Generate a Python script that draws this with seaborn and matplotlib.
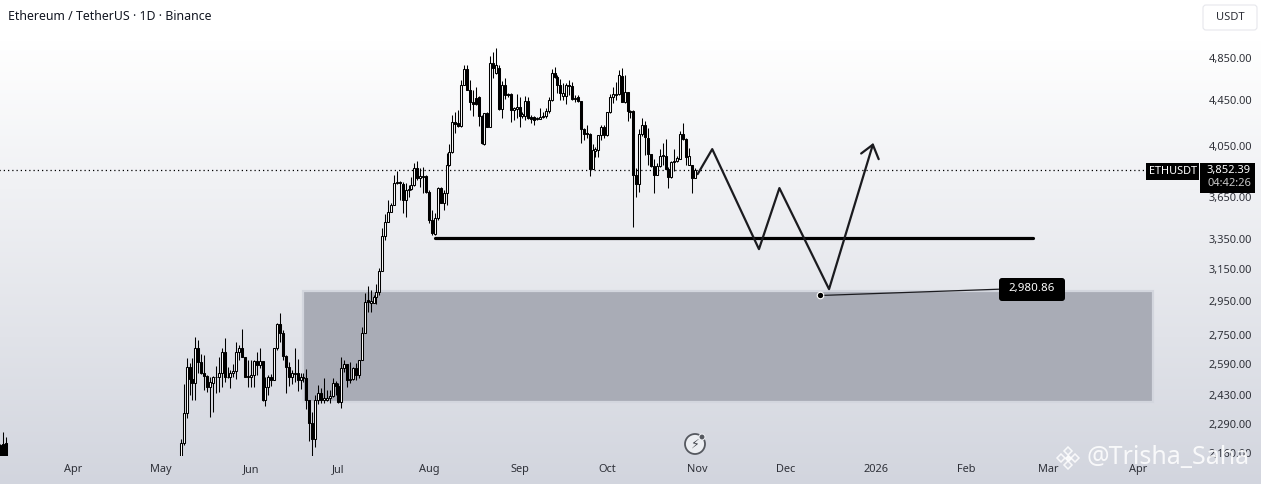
import numpy as np
import pandas as pd
import matplotlib
matplotlib.use("Agg")
import matplotlib.pyplot as plt
import matplotlib.dates as mdates
from matplotlib.patches import FancyBboxPatch, Rectangle, Circle
import seaborn as sns

# candles from 8 May 2025, daily
opens = [1900,2201,2341,2577,2510,2489,2674,2602,2544,2527,
         2469,2492,2520,2520,2544,2656,2520,2523,2544,2555,
         2656,2674,2625,2523,2523,2535,2606,2585,2606,2408,
         2469,2520,2506,2674,2811,2762,2634,2573,2523,2537,
         2541,2506,2517,2515,2405,2293,2223,2408,2442,2408,
         2408,2418,2426,2492,2476,2397,2567,2590,2506,2510,
         2567,2532,2611,2762,2953,2937,2937,2969,3004,3134,
         3367,3465,3537,3587,3753,3763,3745,3624,3700,3711,
         3738,3870,3792,3800,3808,3687,3479,3380,3493,3715,
         3605,3677,3894,4002,4250,4245,4220,4590,4745,4541,
         4434,4470,4475,4305,4065,4332,4213,4805,4700,4755,
         4368,4587,4510,4505,4359,4370,4385,4305,4305,4443,
         4298,4298,4283,4283,4296,4307,4352,4449,4700,4663,
         4590,4490,4490,4590,4580,4455,4475,4437,4190,4155,
         4150,3867,4010,4016,4140,4212,4140,4338,4475,4495,
         4510,4673,4434,4522,4353,4353,3820,3743,4147,4232,
         4116,3980,3886,3820,3886,3969,3969,3862,3797,3920,
         3926,3945,4150,4107,3894,3894,3792]
highs = [2223,2484,2620,2593,2620,2736,2720,2643,2638,2532,
         2523,2525,2580,2629,2674,2730,2573,2558,2590,2707,
         2693,2781,2625,2611,2611,2614,2656,2674,2606,2523,
         2532,2537,2674,2815,2873,2777,2638,2602,2558,2674,
         2618,2541,2541,2562,2405,2349,2431,2481,2464,2515,
         2455,2455,2518,2501,2489,2629,2611,2590,2602,2573,
         2597,2611,2796,2994,3039,3014,2984,3050,3153,3422,
         3522,3624,3602,3815,3848,3768,3763,3753,3738,3801,
         3910,3928,3870,3880,3815,3700,3551,3530,3723,3725,
         3700,3991,4065,4315,4344,4359,4636,4782,4782,4636,
         4541,4570,4485,4315,4335,4340,4870,4910,4950,4782,
         4630,4655,4515,4515,4388,4505,4475,4343,4485,4478,
         4315,4305,4295,4374,4343,4374,4475,4738,4758,4682,
         4643,4610,4612,4636,4620,4495,4495,4443,4198,4226,
         4155,4065,4043,4142,4226,4226,4343,4507,4570,4620,
         4732,4748,4683,4525,4359,4359,3870,4190,4288,4262,
         4198,3983,3942,3910,4024,4076,4107,3880,3926,4024,
         3966,4178,4242,4113,4032,3895,3868]
lows = [1790,2195,2317,2431,2408,2408,2544,2540,2455,2447,
        2322,2349,2442,2447,2472,2497,2515,2464,2523,2510,
        2611,2625,2520,2472,2469,2472,2532,2567,2402,2378,
        2431,2476,2506,2665,2711,2611,2439,2476,2486,2497,
        2452,2460,2497,2360,2213,2146,2186,2386,2389,2389,
        2402,2392,2422,2431,2389,2369,2550,2472,2489,2506,
        2506,2515,2611,2758,2883,2883,2933,2929,2984,3305,
        3339,3465,3537,3587,3745,3624,3530,3503,3650,3700,
        3733,3776,3725,3677,3677,3458,3373,3373,3479,3602,
        3551,3590,3886,3991,4158,4212,4212,4590,4541,4359,
        4305,4403,4220,4065,4057,4212,4212,4660,4695,4359,
        4288,4460,4475,4255,4270,4288,4214,4285,4270,4279,
        4242,4225,4270,4279,4285,4288,4333,4443,4655,4513,
        4449,4449,4413,4495,4449,4434,4434,4076,4099,4113,
        3810,3862,3961,3961,4099,4116,4134,4335,4425,4449,
        4495,4434,4420,4262,4290,3431,3647,3687,4132,3975,
        3894,3880,3675,3815,3880,3894,3860,3713,3792,3846,
        3920,3942,4099,3894,3894,3680,3792]
closes = [2201,2341,2577,2510,2489,2674,2602,2544,2527,2469,
          2494,2523,2523,2544,2656,2520,2523,2544,2555,2656,
          2674,2625,2523,2527,2535,2606,2585,2606,2408,2469,
          2520,2506,2674,2811,2762,2634,2573,2523,2541,2541,
          2506,2520,2520,2405,2293,2223,2408,2442,2408,2417,
          2418,2426,2492,2476,2397,2567,2590,2506,2512,2567,
          2532,2611,2762,2943,2943,2949,2969,3004,3134,3367,
          3467,3537,3587,3753,3763,3753,3624,3700,3711,3738,
          3870,3792,3808,3808,3687,3479,3388,3493,3715,3605,
          3677,3894,4002,4250,4240,4220,4590,4745,4541,4434,
          4412,4412,4305,4074,4332,4213,4805,4755,4780,4368,
          4587,4495,4495,4359,4374,4385,4305,4323,4443,4288,
          4280,4270,4292,4296,4307,4352,4449,4700,4663,4590,
          4516,4516,4590,4580,4455,4465,4437,4190,4150,4150,
          3867,4016,4022,4140,4212,4140,4338,4475,4504,4510,
          4683,4434,4522,4353,4346,3820,3743,4147,4232,4122,
          3980,3886,3820,3886,3969,3977,3862,3797,3920,3926,
          3950,4150,4107,3961,3969,3792,3852]

# the few March candles still visible at the left edge
early_dates = ["2025-03-07", "2025-03-08", "2025-03-09"]
early_opens = [2195, 2200, 2205]
early_highs = [2200, 2252, 2230]
early_lows = [2000, 2010, 1990]
early_closes = [2050, 2060, 2040]

price_ticks = [4850, 4450, 4050, 3650, 3350, 3150, 2950, 2750, 2590, 2430, 2290, 2160]
month_dates = ["2025-04-01", "2025-05-01", "2025-06-01", "2025-07-01", "2025-08-01", "2025-09-01",
               "2025-10-01", "2025-11-01", "2025-12-01", "2026-01-01", "2026-02-01", "2026-03-01", "2026-04-01"]
month_labels = ["Apr", "May", "Jun", "Jul", "Aug", "Sep", "Oct", "Nov", "Dec", "2026", "Feb", "Mar", "Apr"]

# hand drawn projection
path_dates = ["2025-11-01", "2025-11-06", "2025-11-22", "2025-11-29", "2025-12-16", "2025-12-31"]
path_prices = [3823, 4024, 3278, 3715, 3020, 4061]
head_dates = ["2025-12-27", "2025-12-31", "2026-01-02"]
head_prices = [3988, 4061, 3942]

support_dates = ["2025-08-03", "2026-02-24"]
support_price = 3352
zone_dates = ["2025-06-19", "2026-04-06"]
zone_prices = [2395, 3008]
last_price = 3852.39
last_dates = ["2025-03-06", "2026-04-03"]
leader_dates = ["2025-12-13", "2026-02-13"]
leader_prices = [2980.86, 3020]

font = "Noto Sans"
line_color = "#1b1b1f"

sns.set_theme(style="white")
plt.rcParams["font.family"] = [font, "DejaVu Sans"]

W, H = 1261, 484
fig = plt.figure(figsize=(W / 100, H / 100), dpi=100)

# background gradient, white at the top going to blue grey
bg = fig.add_axes([0, 0, 1, 1], zorder=0)
t = np.clip((np.arange(H) - 40) / (H - 40), 0, 1)
top, bottom = np.array([255, 255, 255]), np.array([210, 213, 222])
grad = (top[None, :] + t[:, None] * (bottom - top)[None, :]) / 255
bg.imshow(grad[:, None, :], aspect="auto", extent=[0, 1, 0, 1])
bg.axis("off")

ax = fig.add_axes([0, 28 / H, 1203 / W, 456 / H], zorder=1)
ax.patch.set_alpha(0)
ax.set_yscale("log")

to_num = lambda d: mdates.date2num(pd.to_datetime(d))
main_x = to_num(pd.date_range("2025-05-08", periods=len(opens)))
xs = np.concatenate([to_num(early_dates), main_x])
o = np.array(early_opens + opens, dtype=float)
h = np.array(early_highs + highs, dtype=float)
l = np.array(early_lows + lows, dtype=float)
c = np.array(early_closes + closes, dtype=float)

# zone under the candles
zx = to_num(zone_dates)
ax.add_patch(Rectangle((zx[0], zone_prices[0]), zx[1] - zx[0], zone_prices[1] - zone_prices[0],
                       facecolor="#a9acb6", edgecolor="#d3d6de", linewidth=1.6, zorder=1))

# last price dotted line
sns.lineplot(x=to_num(last_dates), y=[last_price, last_price], ax=ax, color="black",
             linewidth=0.9, linestyle=(0, (1, 2.4)), zorder=2)

ax.vlines(xs, l, h, color="black", linewidth=0.75, zorder=3)
up = c >= o
ax.bar(xs, np.abs(c - o), bottom=np.minimum(o, c), width=0.68,
       color=np.where(up, "white", "black"), edgecolor="black", linewidth=0.75, zorder=4)

sns.lineplot(x=to_num(support_dates), y=[support_price, support_price], ax=ax, color="black",
             linewidth=2.3, zorder=5)
sns.lineplot(x=to_num(path_dates), y=path_prices, ax=ax, color=line_color, linewidth=1.6,
             sort=False, estimator=None, zorder=5)
sns.lineplot(x=to_num(head_dates), y=head_prices, ax=ax, color=line_color, linewidth=1.6,
             sort=False, estimator=None, zorder=5)
sns.lineplot(x=to_num(leader_dates), y=leader_prices, ax=ax, color=line_color, linewidth=0.9,
             sort=False, estimator=None, zorder=5)
sns.scatterplot(x=to_num(leader_dates[:1]), y=leader_prices[:1], ax=ax, color="black", s=22,
                edgecolor="white", linewidth=0.8, zorder=6)

# Aug 1 sits at 429px, one day is 2.92px
aug1 = to_num("2025-08-01")
ax.set_xlim(aug1 - 429 / 2.92, aug1 + (1203 - 429) / 2.92)
ax.set_ylim(2145, 5463)
ax.yaxis.tick_right()
ax.set_yticks(price_ticks)
ax.set_yticklabels([f"{p:,.2f}" for p in price_ticks], fontsize=7.9, color="#2e3038")
ax.minorticks_off()
ax.set_xticks(to_num(month_dates))
ax.set_xticklabels(month_labels, fontsize=7.9, color="#2e3038")
ax.tick_params(axis="both", length=0, pad=4)
ax.tick_params(axis="x", pad=6)
ax.set_xlabel("")
ax.set_ylabel("")
sns.despine(ax=ax, left=True, bottom=True, right=True, top=True)

# chrome on top in pixel coordinates
px = fig.add_axes([0, 0, 1, 1], zorder=2)
px.set_xlim(0, W)
px.set_ylim(H, 0)
px.axis("off")
px.patch.set_alpha(0)

px.text(8, 16, "Ethereum / TetherUS · 1D · Binance", fontsize=8.9, fontweight="medium",
        color="#131722", va="center", ha="left")
px.add_patch(FancyBboxPatch((1203, 5), 54, 25, boxstyle="round,pad=0,rounding_size=3",
                            facecolor="white", edgecolor="#e6e7ec", linewidth=0.8))
px.text(1230, 17, "USDT", fontsize=8, color="#2e3038", ha="center", va="center")

px.add_patch(Rectangle((1146, 163), 53, 17, facecolor="black", edgecolor="none", zorder=5))
px.text(1172.5, 171.5, "ETHUSDT", fontsize=7.9, color="white", ha="center", va="center", zorder=6)
px.add_patch(Rectangle((1200, 163), 55, 30, facecolor="black", edgecolor="none", zorder=5))
px.text(1229, 171, f"{last_price:,.2f}", fontsize=8, color="white", ha="center", va="center", zorder=6)
px.text(1229, 184, "04:42:26", fontsize=8, color="#c8c8c8", ha="center", va="center", zorder=6)

px.add_patch(FancyBboxPatch((999, 278), 66, 23, boxstyle="round,pad=0,rounding_size=3",
                            facecolor="black", edgecolor="none", zorder=5))
px.text(1032, 289, f"{leader_prices[0]:,.2f}", fontsize=8.3, color="white", ha="center",
        va="center", zorder=6)

# lightning badge
px.add_patch(Circle((695, 444), 10, facecolor="#eceef2", edgecolor="#55585f", linewidth=1.3))
px.text(695, 444, "\u26a1", fontsize=9, color="#44474e", ha="center", va="center", family="DejaVu Sans")
px.add_patch(Circle((702, 437), 3, facecolor="#55585f", edgecolor="#eceef2", linewidth=0.8))

# watermark
for dx, dy in [(0, -7), (0, 7), (-7, 0), (7, 0)]:
    px.plot(1068 + dx, 458 + dy, marker="D", markersize=4, markerfacecolor="none",
            markeredgecolor="white", markeredgewidth=1.1, alpha=0.85)
px.plot(1068, 458, marker="D", markersize=3, color="white", alpha=0.85)
px.text(1087, 458, "@Trisha_Saha", fontsize=18, color="white", alpha=0.85, ha="left", va="center")

fig.savefig("out.png", dpi=100)
plt.close(fig)
print("saved out.png")
